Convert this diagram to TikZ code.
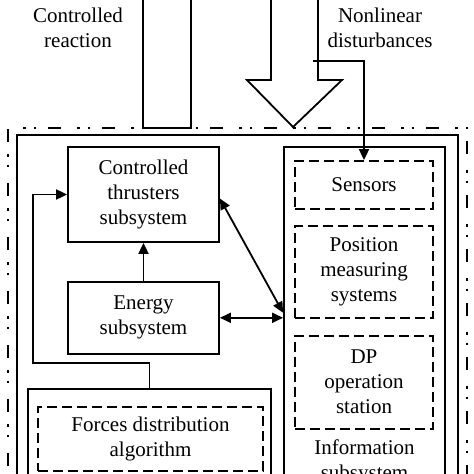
\documentclass[tikz,border=0pt]{standalone}
\usepackage{fontspec}
\setmainfont{Liberation Serif}
\usetikzlibrary{arrows.meta,positioning,calc}
\tikzset{
  box/.style={draw,line width=1.8pt,minimum width=151pt,inner sep=0pt},
  dbox/.style={draw,line width=1.8pt,dash pattern=on 10pt off 5pt,minimum width=138pt,inner sep=0pt},
  conn/.style={line width=1.8pt,-{Triangle[length=11pt,width=10pt]}},
  dconn/.style={line width=1.8pt,{Triangle[length=11pt,width=10pt]}-{Triangle[length=11pt,width=10pt]}},
  frame/.style={line width=2.8pt,dash pattern=on 13pt off 16pt on 2.5pt off 8pt on 2.5pt off 12pt},
}
\begin{document}
\begin{tikzpicture}[x=1pt,y=-1pt,font=\fontsize{21}{25}\selectfont,every node/.append style={align=center}]
    \useasboundingbox (0,0) rectangle (474,474);
    \clip (0,0) rectangle (474,474);
    \fill[white] (0,0) rectangle (474,474);
    % outer frames
    \draw[frame] (8,520) -- (8,128) -- (467,128) -- (467,520);
    \draw[line width=1.8pt] (17,520) -- (17,135) -- (458,135) -- (458,520);
    % inputs from above
    \node (cr) at (78,27.5) {Controlled\\reaction};
    \node (nl) at (380,27.5) {Nonlinear\\disturbances};
    \draw[line width=1.8pt] (143,-5) -- (143,128) -- (191,128) -- (191,-5);
    \draw[line width=1.8pt] (271,-5) -- (271,80) -- (247,80) -- (293,127) -- (342,80) -- (318,80) -- (318,-5);
    % left part
    \node[box,minimum height=95pt] (thr) at (143.5,194.5) {Controlled\\thrusters\\subsystem};
    \node[box,minimum height=72pt,below=38pt of thr] (en) {Energy\\subsystem};
    \node[box,minimum width=243pt,minimum height=131pt] (fdo) at (149.5,454.5) {};
    \node[box,dash pattern=on 10pt off 5pt,minimum width=225pt,minimum height=64pt] (fda) at (150.5,439) {Forces distribution\\algorithm};
    % right part
    \node[box,minimum width=161pt,minimum height=353pt] (info) at (364.5,323.5) {};
    \node[dbox,minimum height=48pt] (sen) at (364,185) {Sensors};
    \node[dbox,minimum height=92pt,below=15pt of sen] (pos) {Position\\measuring\\systems};
    \node[dbox,minimum height=93pt,below=16pt of pos] (dp) {DP\\operation\\station};
    \node (inf) at (364.5,462) {Information\\subsystem};
    % connectors
    \coordinate (nd) at (313,61);
    \draw[conn] (nd) -| (sen.north);
    \draw[conn] (en) -- (thr);
    \draw[dconn] (en.east) -- (en.east -| info.west);
    \draw[dconn] ($(thr.east)+(0,4)$) -- ($(en.east -| info.west)+(0,-5)$);
    \draw[conn] (fdo.north) -- ++(0,-25) -| ([xshift=-34pt]thr.west) -- (thr.west);
\end{tikzpicture}
\end{document}
